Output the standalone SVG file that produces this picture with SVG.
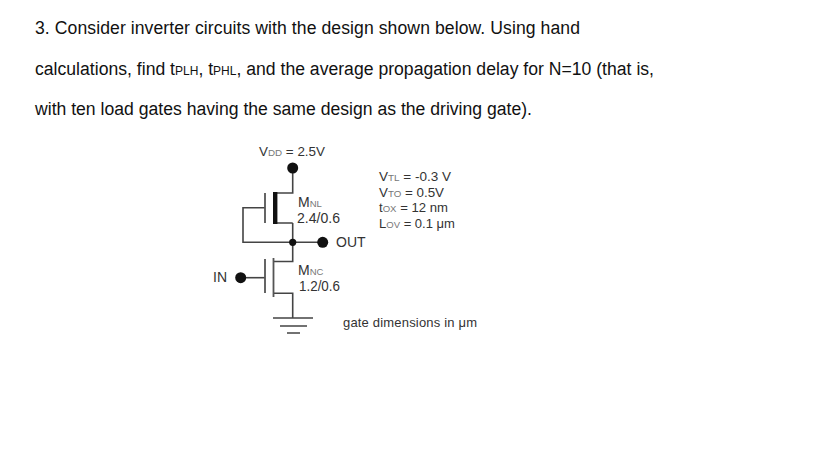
<svg xmlns="http://www.w3.org/2000/svg" width="819" height="460" viewBox="0 0 819 460">
<style>
text{font-family:"Liberation Sans",Arial,sans-serif;fill:#1a1a1a}
.q{font-size:17.6px;fill:#111}
.q .s{font-size:12px}
.c{font-size:14px;fill:#333}
.p{font-size:13px;fill:#333}
.c .s,.p .s{font-size:9.5px;fill:#777}
.w{stroke:#444;stroke-width:1.6;fill:none}
.b{stroke:#555;stroke-width:1.8;fill:none}
.d{fill:#111}
</style>
<rect width="819" height="460" fill="#fff"/>
<g id="question">
<text class="q" x="35" y="34" textLength="545">3. Consider inverter circuits with the design shown below.  Using hand</text>
<text class="q" x="35" y="75" textLength="619">calculations, find t<tspan class="s">PLH</tspan>, t<tspan class="s">PHL</tspan>, and the average propagation delay for N=10 (that is,</text>
<text class="q" x="35" y="115" textLength="497">with ten load gates having the same design as the driving gate).</text>
</g>
<g id="connectors">
<path class="w" d="M292.7 168V193H276M292.7 223H276M292.7 223V261.5H274M265 207.7H243V242.3H322M274 293.3H292.7V318"/>
<path class="w" d="M241 277.7H265"/>
</g>
<g id="vdd">
<circle class="d" cx="292.7" cy="168" r="5.5"/>
<text class="p" x="259" y="156" textLength="66" lengthAdjust="spacingAndGlyphs">V<tspan class="s">DD</tspan> = 2.5V</text>
</g>
<g id="mnl">
<path class="b" d="M265 193V223"/>
<rect x="273" y="192" width="4.4" height="32" fill="#111"/>
<text class="c" x="298" y="207">M<tspan class="s">NL</tspan></text>
<text class="c" x="297" y="223" textLength="43" lengthAdjust="spacingAndGlyphs">2.4/0.6</text>
</g>
<g id="out">
<circle class="d" cx="292.7" cy="242.3" r="3.6"/>
<circle class="d" cx="322.7" cy="242.3" r="5.5"/>
<text class="c" x="336" y="247">OUT</text>
</g>
<g id="mnc">
<path class="b" d="M265 259V293M273.5 258V297"/>
<text class="c" x="298" y="275">M<tspan class="s">NC</tspan></text>
<text class="c" x="299" y="291" textLength="41" lengthAdjust="spacingAndGlyphs">1.2/0.6</text>
</g>
<g id="in">
<circle class="d" cx="240.7" cy="277.7" r="5.5"/>
<text class="c" x="213" y="282">IN</text>
</g>
<g id="ground">
<path class="w" d="M273 318H313M280 326H307M287 333H300"/>
</g>
<g id="params">
<text class="p" x="379" y="181" textLength="72" lengthAdjust="spacingAndGlyphs">V<tspan class="s">TL</tspan> = -0.3 V</text>
<text class="p" x="379" y="197" textLength="65" lengthAdjust="spacingAndGlyphs">V<tspan class="s">TO</tspan> = 0.5V</text>
<text class="p" x="379" y="212" textLength="69" lengthAdjust="spacingAndGlyphs">t<tspan class="s">OX</tspan> = 12 nm</text>
<text class="p" x="379" y="228" textLength="76" lengthAdjust="spacingAndGlyphs">L<tspan class="s">OV</tspan> = 0.1 μm</text>
<text class="p" x="343" y="327" textLength="134">gate dimensions in μm</text>
</g>
</svg>
